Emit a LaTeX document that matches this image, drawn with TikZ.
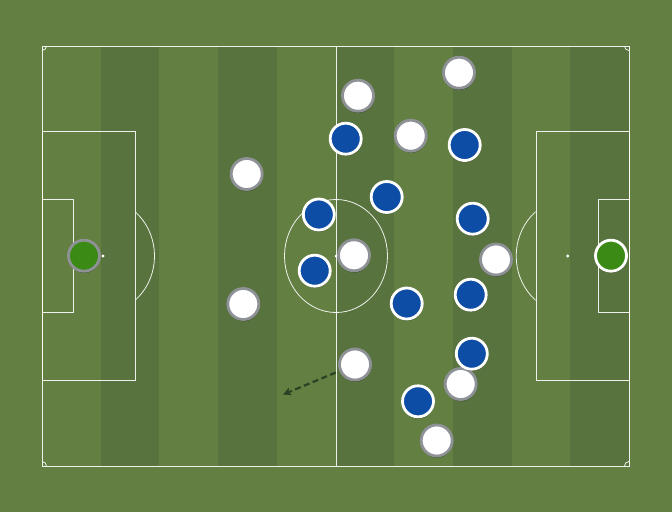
\documentclass[tikz,border=0pt]{standalone}
\usetikzlibrary{shadows,arrows.meta}
\definecolor{bggreen}{RGB}{99,127,66}
\definecolor{stripe}{RGB}{88,115,61}
\definecolor{pblue}{RGB}{13,77,165}
\definecolor{pgrey}{RGB}{142,145,150}
\definecolor{pgreen}{RGB}{60,138,22}
\definecolor{arrowgreen}{RGB}{44,66,36}
\tikzset{
  pline/.style={draw=white, draw opacity=0.9, line width=1pt},
  player/.style={circle, inner sep=0pt, minimum size=31pt, line width=2.8pt,
    drop shadow={shadow xshift=0.4pt, shadow yshift=-1.8pt, opacity=0.35, fill=black}},
  whitepl/.style={player, fill=white, draw=pgrey},
  bluepl/.style={player, fill=pblue, draw=white},
  keepgrey/.style={player, fill=pgreen, draw=pgrey},
  keepwhite/.style={player, fill=pgreen, draw=white},
  run/.style={draw=arrowgreen, line width=2.2pt, dash pattern=on 6pt off 3.5pt,
    -{Stealth[length=8pt,width=8pt,inset=2pt]}, shorten <=4pt},
}
\begin{document}
\begin{tikzpicture}[x=1pt,y=-1pt]
\useasboundingbox (0,0) rectangle (672,512);
\fill[bggreen] (0,0) rectangle (672,512);
% stripes
\foreach \i in {1,3,5,7,9}{
  \fill[stripe] ({42+\i*58.7},46) rectangle ({42+(\i+1)*58.7},466);
}
% pitch outline
\draw[pline] (42,46) rectangle (629,466);
\draw[pline] (336,46) -- (336,466);
\draw[pline, line width=0.8pt] (336,256) ellipse [x radius=51.5, y radius=56.5];
\fill[white] (336,256) circle (1.5);
% left side
\draw[pline] (42,131) rectangle (135,380);
\draw[pline] (42,199) rectangle (73,312);
\fill[white] (103,256) circle (1.6);
\begin{scope}
  \clip (135.5,0) rectangle (300,512);
  \draw[pline, line width=0.8pt] (103,256) ellipse [x radius=51.5, y radius=56.5];
\end{scope}
% right side
\draw[pline] (536,131) rectangle (629,380);
\draw[pline] (598,199) rectangle (629,312);
\fill[white] (567.7,256) circle (1.6);
\begin{scope}
  \clip (400,0) rectangle (535.5,512);
  \draw[pline, line width=0.8pt] (567.7,256) ellipse [x radius=51.5, y radius=56.5];
\end{scope}
% corner arcs
\begin{scope}
  \clip (42,46) rectangle (629,466);
  \foreach \cx/\cy in {42/46,629/46,42/466,629/466}{
    \draw[pline, line width=0.8pt] (\cx,\cy) circle (4.5);
  }
\end{scope}
% keepers
\node[keepgrey] (gk1) at (84,255.7) {};
\node[keepwhite] (gk2) at (611,255.7) {};
% white team
\node[whitepl] (w1) at (459,72.7) {};
\node[whitepl] (w2) at (358,95.7) {};
\node[whitepl] (w3) at (410.7,135.7) {};
\node[whitepl] (w4) at (246.7,174) {};
\node[whitepl] (w5) at (354,255.3) {};
\node[whitepl] (w6) at (496,259.5) {};
\node[whitepl] (w7) at (243.3,304) {};
\node[whitepl] (w8) at (355,364.5) {};
\node[whitepl] (w9) at (460.7,384) {};
\node[whitepl] (w10) at (436.7,440.5) {};
% blue team
\node[bluepl] (b1) at (345.7,138.7) {};
\node[bluepl] (b2) at (464.7,145) {};
\node[bluepl] (b3) at (386.7,197) {};
\node[bluepl] (b4) at (318.8,214.5) {};
\node[bluepl] (b5) at (472.7,218.7) {};
\node[bluepl] (b6) at (314.7,270.7) {};
\node[bluepl] (b7) at (406.7,303.5) {};
\node[bluepl] (b8) at (470.7,294.7) {};
\node[bluepl] (b9) at (471.8,353.7) {};
\node[bluepl] (b10) at (418,401.3) {};
% run
\coordinate (tip) at (283,394.5);
\draw[run] (w8) -- (tip);
\end{tikzpicture}
\end{document}
